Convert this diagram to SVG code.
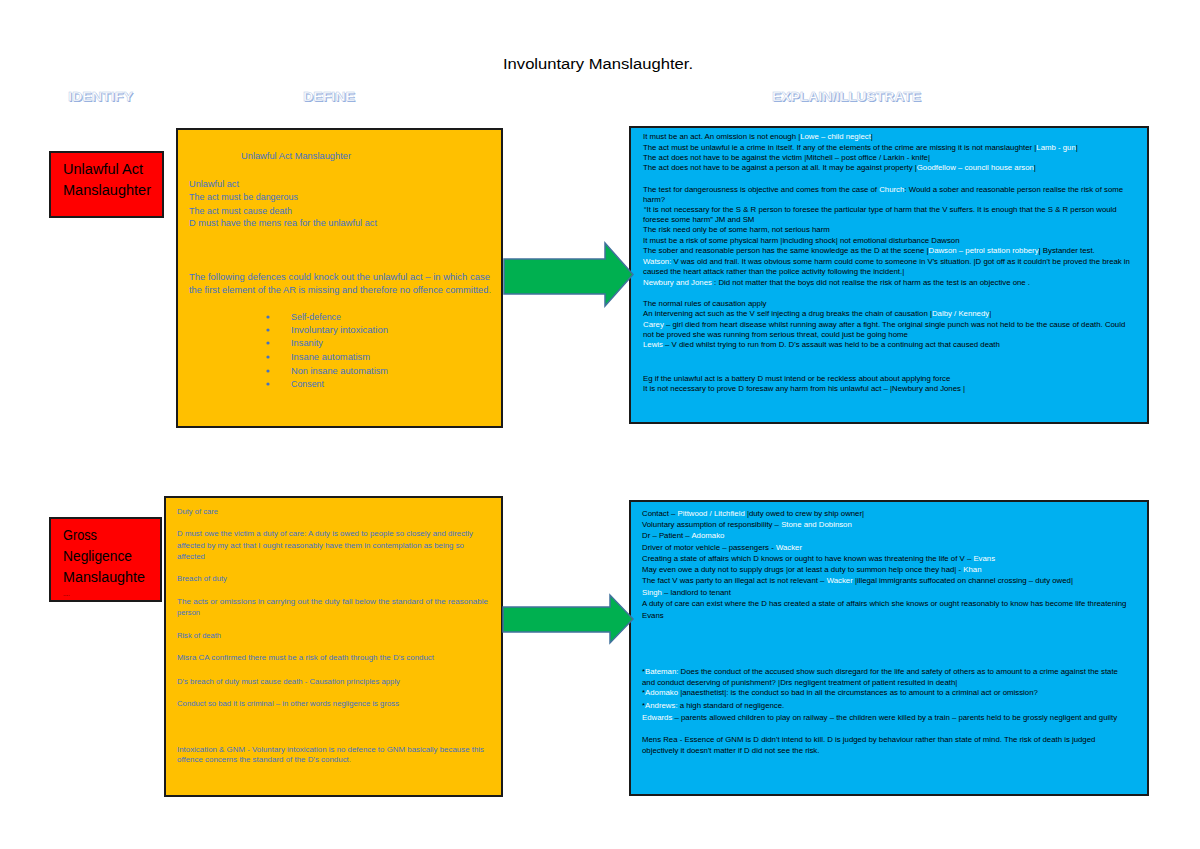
<svg xmlns="http://www.w3.org/2000/svg" width="1200" height="849" viewBox="0 0 1200 849">
<style>
text{font-family:"Liberation Sans",Arial,sans-serif}
.box{stroke:#1a1a1a;stroke-width:2}
.red{fill:#FF0000}
.org{fill:#FFC000}
.blu{fill:#00B0F0}
.rt{font-size:14px;fill:#000}
.ot{font-size:9.5px;fill:#4472C4}
.ot2{font-size:8px;fill:#4472C4}
.bt{font-size:7.8px;fill:#000}
.w{fill:#FFFFFF}
.hd{font-size:12px;font-weight:bold}
.arrow{fill:#00B050;stroke:#41719C;stroke-width:1.5}
</style>
<rect width="1200" height="849" fill="#FFFFFF"/>

<g id="title">
<text x="503" y="69" font-size="14" fill="#000" textLength="190" lengthAdjust="spacingAndGlyphs">Involuntary Manslaughter.</text>
</g>
<g id="headers">
<text class="hd" x="69" y="102" fill="#8FAADC" textLength="65" lengthAdjust="spacingAndGlyphs">IDENTIFY</text>
<text class="hd" x="68" y="101" fill="#FFFFFF" stroke="#B4C7E7" stroke-width="0.4" textLength="65" lengthAdjust="spacingAndGlyphs">IDENTIFY</text>
<text class="hd" x="304" y="102" fill="#8FAADC" textLength="52" lengthAdjust="spacingAndGlyphs">DEFINE</text>
<text class="hd" x="303" y="101" fill="#FFFFFF" stroke="#B4C7E7" stroke-width="0.4" textLength="52" lengthAdjust="spacingAndGlyphs">DEFINE</text>
<text class="hd" x="773" y="102" fill="#8FAADC" textLength="149" lengthAdjust="spacingAndGlyphs">EXPLAIN/ILLUSTRATE</text>
<text class="hd" x="772" y="101" fill="#FFFFFF" stroke="#B4C7E7" stroke-width="0.4" textLength="149" lengthAdjust="spacingAndGlyphs">EXPLAIN/ILLUSTRATE</text>
</g>

<g id="uam-identify">
<rect class="box red" x="50" y="152" width="113" height="65"/>
<text class="rt" x="63" y="174" textLength="80" lengthAdjust="spacingAndGlyphs">Unlawful Act</text>
<text class="rt" x="63" y="195" textLength="88" lengthAdjust="spacingAndGlyphs">Manslaughter</text>
</g>

<g id="uam-define">
<rect class="box org" x="177" y="129" width="325" height="298"/>
<text class="ot" x="241" y="159" textLength="110" lengthAdjust="spacingAndGlyphs">Unlawful Act Manslaughter</text>
<text class="ot" x="189" y="187" textLength="50" lengthAdjust="spacingAndGlyphs">Unlawful act</text>
<text class="ot" x="189" y="200" textLength="109" lengthAdjust="spacingAndGlyphs">The act must be dangerous</text>
<text class="ot" x="189" y="214" textLength="103" lengthAdjust="spacingAndGlyphs">The act must cause death</text>
<text class="ot" x="189" y="226" textLength="188" lengthAdjust="spacingAndGlyphs">D must have the mens rea for the unlawful act</text>
<text class="ot" x="189" y="280" textLength="301" lengthAdjust="spacingAndGlyphs">The following defences could knock out the unlawful act – in which case</text>
<text class="ot" x="189" y="293" textLength="302" lengthAdjust="spacingAndGlyphs">the first element of the AR is missing and therefore no offence committed.</text>
<g fill="#4472C4">
<circle cx="268" cy="317" r="1.6"/>
<circle cx="268" cy="330" r="1.6"/>
<circle cx="268" cy="343" r="1.6"/>
<circle cx="268" cy="357" r="1.6"/>
<circle cx="268" cy="371" r="1.6"/>
<circle cx="268" cy="384" r="1.6"/>
</g>
<text class="ot" x="291" y="320" textLength="50" lengthAdjust="spacingAndGlyphs">Self-defence</text>
<text class="ot" x="291" y="333" textLength="97" lengthAdjust="spacingAndGlyphs">Involuntary intoxication</text>
<text class="ot" x="291" y="346" textLength="32" lengthAdjust="spacingAndGlyphs">Insanity</text>
<text class="ot" x="291" y="360" textLength="79" lengthAdjust="spacingAndGlyphs">Insane automatism</text>
<text class="ot" x="291" y="374" textLength="97" lengthAdjust="spacingAndGlyphs">Non insane automatism</text>
<text class="ot" x="291" y="387" textLength="33" lengthAdjust="spacingAndGlyphs">Consent</text>
</g>

<g id="uam-explain">
<rect class="box blu" x="630" y="127" width="518" height="296"/>
<text class="bt" x="643" y="139">It must be an act. An omission is not enough |<tspan class="w">Lowe – child neglect</tspan>|</text>
<text class="bt" x="643" y="150">The act must be unlawful ie a crime in itself. If any of the elements of the crime are missing it is not manslaughter |<tspan class="w">Lamb - gun</tspan>|</text>
<text class="bt" x="643" y="160">The act does not have to be against the victim |Mitchell – post office / Larkin - knife|</text>
<text class="bt" x="643" y="170">The act does not have to be against a person at all. It may be against property |<tspan class="w">Goodfellow – council house arson</tspan>|</text>
<text class="bt" x="643" y="192">The test for dangerousness is objective and comes from the case of <tspan class="w">Church</tspan>: Would a sober and reasonable person realise the risk of some</text>
<text class="bt" x="643" y="202">harm?</text>
<text class="bt" x="644" y="212">“It is not necessary for the S &amp; R person to foresee the particular type of harm that the V suffers. It is enough that the S &amp; R person would</text>
<text class="bt" x="643" y="222">foresee some harm” JM and SM</text>
<text class="bt" x="643" y="232">The risk need only be of some harm, not serious harm</text>
<text class="bt" x="643" y="243">It must be a risk of some physical harm |including shock| not emotional disturbance Dawson</text>
<text class="bt" x="643" y="253">The sober and reasonable person has the same knowledge as the D at the scene |<tspan class="w">Dawson – petrol station robbery</tspan>| Bystander test.</text>
<text class="bt" x="643" y="264"><tspan class="w">Watson:</tspan> V was old and frail. It was obvious some harm could come to someone in V's situation. |D got off as it couldn't be proved the break in</text>
<text class="bt" x="643" y="274">caused the heart attack rather than the police activity following the incident.|</text>
<text class="bt" x="643" y="285"><tspan class="w">Newbury and Jones</tspan> : Did not matter that the  boys did not realise the risk of harm as the test is an objective one .</text>
<text class="bt" x="643" y="306">The normal rules of causation apply</text>
<text class="bt" x="643" y="316">An intervening act such as the V self injecting a drug breaks the chain of causation |<tspan class="w">Dalby / Kennedy</tspan>|</text>
<text class="bt" x="643" y="327"><tspan class="w">Carey</tspan> – girl died from heart disease whilst running away after a fight. The original single punch was not held to be the cause of death. Could</text>
<text class="bt" x="643" y="337">not be proved she was running from serious threat, could just be going home</text>
<text class="bt" x="643" y="347"><tspan class="w">Lewis</tspan> – V died whilst trying to run from D. D's assault was held to be a continuing act that caused death</text>
<text class="bt" x="643" y="381">Eg if the unlawful act is a battery D must intend or be reckless about about applying force</text>
<text class="bt" x="643" y="391">It is not necessary to prove D foresaw any harm from his unlawful act – |Newbury and Jones |</text>
</g>

<g id="gnm-identify">
<rect class="box red" x="50" y="518" width="111" height="83"/>
<text class="rt" x="63" y="540" textLength="34" lengthAdjust="spacingAndGlyphs">Gross</text>
<text class="rt" x="63" y="561" textLength="69" lengthAdjust="spacingAndGlyphs">Negligence</text>
<text class="rt" x="63" y="582" textLength="82" lengthAdjust="spacingAndGlyphs">Manslaughte</text>
<text x="63" y="596" font-size="6" fill="#000">....</text>
</g>

<g id="gnm-define">
<rect class="box org" x="165" y="497" width="337" height="299"/>
<text class="ot2" x="177" y="514" textLength="41" lengthAdjust="spacingAndGlyphs">Duty of care</text>
<text class="ot2" x="177" y="536" textLength="296" lengthAdjust="spacingAndGlyphs">D must owe the victim a duty of care: A duty is owed to people so closely and directly</text>
<text class="ot2" x="177" y="548" textLength="287" lengthAdjust="spacingAndGlyphs">affected by my act that I ought reasonably have them in contemplation as being so</text>
<text class="ot2" x="177" y="559" textLength="28" lengthAdjust="spacingAndGlyphs">affected</text>
<text class="ot2" x="177" y="581" textLength="50" lengthAdjust="spacingAndGlyphs">Breach of duty</text>
<text class="ot2" x="177" y="604" textLength="311" lengthAdjust="spacingAndGlyphs">The acts or omissions in carrying out the duty fall below the standard of the reasonable</text>
<text class="ot2" x="177" y="615" textLength="23" lengthAdjust="spacingAndGlyphs">person</text>
<text class="ot2" x="177" y="638" textLength="44" lengthAdjust="spacingAndGlyphs">Risk of death</text>
<text class="ot2" x="177" y="660" textLength="257" lengthAdjust="spacingAndGlyphs">Misra CA confirmed there must be a risk of death through the D's conduct</text>
<text class="ot2" x="177" y="684" textLength="223" lengthAdjust="spacingAndGlyphs">D's breach of duty must cause death - Causation principles apply</text>
<text class="ot2" x="177" y="706" textLength="222" lengthAdjust="spacingAndGlyphs">Conduct so bad it is criminal – in other words negligence is gross</text>
<text class="ot2" x="177" y="752" textLength="307" lengthAdjust="spacingAndGlyphs">Intoxication &amp; GNM - Voluntary intoxication is no defence to GNM basically because this</text>
<text class="ot2" x="177" y="762" textLength="174" lengthAdjust="spacingAndGlyphs">offence concerns the standard of the D's conduct.</text>
</g>

<g id="gnm-explain">
<rect class="box blu" x="630" y="501" width="518" height="294"/>
<text class="bt" x="642" y="516">Contact – <tspan class="w">Pittwood / Litchfield</tspan> |duty owed to crew by ship owner|</text>
<text class="bt" x="642" y="527">Voluntary assumption of responsibility – <tspan class="w">Stone and Dobinson</tspan></text>
<text class="bt" x="642" y="538">Dr – Patient – <tspan class="w">Adomako</tspan></text>
<text class="bt" x="642" y="550">Driver of motor vehicle – passengers - <tspan class="w">Wacker</tspan></text>
<text class="bt" x="642" y="561">Creating a state of affairs which D knows or ought to have known was threatening the life of V – <tspan class="w">Evans</tspan></text>
<text class="bt" x="642" y="572">May even owe a duty not to supply drugs |or at least a duty to summon help once they had| - <tspan class="w">Khan</tspan></text>
<text class="bt" x="642" y="583">The fact V was party to an illegal act is not relevant – <tspan class="w">Wacker</tspan> |illegal immigrants suffocated on channel crossing – duty owed|</text>
<text class="bt" x="642" y="595"><tspan class="w">Singh</tspan> – landlord to tenant</text>
<text class="bt" x="642" y="606">A duty of care can exist where the D has created a state of affairs which she knows or ought reasonably to know has become life threatening</text>
<text class="bt" x="642" y="618">Evans</text>
<text class="bt" x="642" y="674">*<tspan class="w">Bateman:</tspan> Does the conduct of the accused show such disregard for the life and safety of others as to amount to a crime against the state</text>
<text class="bt" x="642" y="685">and conduct deserving of punishment? |Drs negligent treatment of patient resulted in death|</text>
<text class="bt" x="642" y="695">*<tspan class="w">Adomako</tspan> |anaesthetist|: is the conduct so bad in all the circumstances as to amount to a criminal act or omission?</text>
<text class="bt" x="642" y="708">*<tspan class="w">Andrews:</tspan> a high standard of negligence.</text>
<text class="bt" x="642" y="720"><tspan class="w">Edwards</tspan> – parents allowed children to play on railway – the children were killed by a train – parents held to be grossly negligent and guilty</text>
<text class="bt" x="642" y="742">Mens Rea - Essence of GNM is D didn't intend to kill. D is judged by behaviour rather than state of mind. The risk of death is judged</text>
<text class="bt" x="642" y="753">objectively it doesn't matter if D did not see the risk.</text>
</g>

<g id="connectors">
<polygon class="arrow" points="504,259 605,259 605,243 633,274.5 605,306 605,294 504,294"/>
<polygon class="arrow" points="503,607 610,607 610,595 633,619 610,643 610,632 503,632"/>
</g>
</svg>
